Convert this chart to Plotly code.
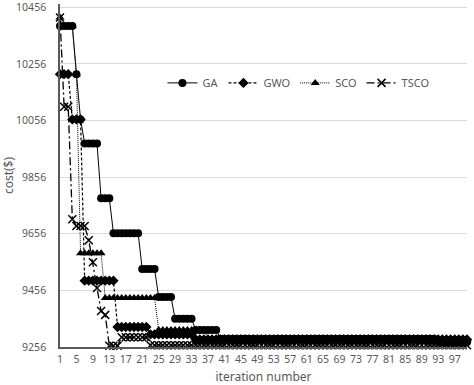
import plotly.graph_objects as go

iterations = list(range(1, 101))

ga = [10390, 10390, 10390, 10390, 10220, 10060, 9975, 9975, 9975, 9975,
      9781, 9781, 9781, 9658, 9658, 9658, 9658, 9658, 9658, 9658,
      9531, 9531, 9531, 9531, 9432, 9432, 9432, 9432, 9355, 9355,
      9355, 9355, 9355, 9316, 9316, 9316, 9316, 9316, 9316, 9285,
      9285, 9285, 9285, 9285, 9285, 9285, 9285, 9285, 9285, 9285,
      9285, 9285, 9285, 9285, 9285, 9285, 9285, 9285, 9285, 9285,
      9285, 9285, 9285, 9285, 9285, 9285, 9285, 9285, 9285, 9285,
      9285, 9285, 9285, 9285, 9285, 9285, 9285, 9285, 9285, 9285,
      9285, 9285, 9285, 9285, 9285, 9285, 9285, 9285, 9285, 9285,
      9285, 9285, 9272, 9272, 9272, 9272, 9272, 9272, 9272, 9272]

gwo = [10220, 10220, 10220, 10060, 10060, 10060, 9490, 9490, 9490, 9490,
       9490, 9490, 9490, 9490, 9326, 9326, 9326, 9326, 9326, 9326,
       9326, 9326, 9300, 9300, 9300, 9300, 9300, 9300, 9300, 9300,
       9300, 9300, 9300, 9282, 9282, 9282, 9282, 9282, 9282, 9282,
       9282, 9282, 9282, 9282, 9282, 9282, 9282, 9282, 9282, 9282,
       9282, 9282, 9282, 9282, 9282, 9282, 9282, 9282, 9282, 9282,
       9282, 9282, 9282, 9282, 9282, 9282, 9282, 9282, 9282, 9282,
       9282, 9282, 9282, 9282, 9282, 9282, 9282, 9282, 9282, 9282,
       9282, 9282, 9282, 9282, 9282, 9282, 9282, 9282, 9282, 9282,
       9282, 9282, 9282, 9282, 9282, 9282, 9282, 9282, 9282, 9282]

sco = [10420, 10390, 10390, 10390, 10220, 9587, 9587, 9587, 9587, 9587,
       9587, 9429, 9429, 9429, 9429, 9429, 9429, 9429, 9429, 9429,
       9429, 9429, 9429, 9429, 9316, 9316, 9316, 9316, 9316, 9316,
       9316, 9316, 9316, 9316, 9316, 9316, 9285, 9285, 9285, 9285,
       9285, 9285, 9285, 9285, 9285, 9285, 9285, 9285, 9285, 9285,
       9285, 9285, 9285, 9285, 9285, 9285, 9285, 9285, 9285, 9285,
       9285, 9285, 9285, 9285, 9285, 9285, 9285, 9285, 9285, 9285,
       9285, 9285, 9285, 9285, 9285, 9285, 9285, 9285, 9285, 9285,
       9285, 9285, 9285, 9285, 9285, 9285, 9285, 9285, 9285, 9285,
       9285, 9285, 9285, 9285, 9285, 9285, 9285, 9285, 9285, 9285]

tsco = [10420, 10105, 10105, 9707, 9683, 9683, 9683, 9633, 9555, 9464,
        9383, 9369, 9260, 9260, 9260, 9290, 9290, 9290, 9290, 9290,
        9290, 9290, 9262, 9262, 9262, 9262, 9262, 9262, 9262, 9262,
        9262, 9262, 9262, 9262, 9262, 9262, 9262, 9262, 9262, 9262,
        9262, 9262, 9262, 9262, 9262, 9262, 9262, 9262, 9262, 9262,
        9262, 9262, 9262, 9262, 9262, 9262, 9262, 9262, 9262, 9262,
        9262, 9262, 9262, 9262, 9262, 9262, 9262, 9262, 9262, 9262,
        9262, 9262, 9262, 9262, 9262, 9262, 9262, 9262, 9262, 9262,
        9262, 9262, 9262, 9262, 9262, 9262, 9262, 9262, 9262, 9262,
        9262, 9262, 9262, 9262, 9262, 9262, 9262, 9262, 9262, 9262]

x_ticks = list(range(1, 101, 4))
y_ticks = [9256, 9456, 9656, 9856, 10056, 10256, 10456]

FONT = "Noto Sans"
GREY = "#595959"

fig = go.Figure()
fig.add_trace(go.Scatter(x=iterations, y=ga, name="GA", mode="lines+markers",
                         line=dict(color="black", width=1, dash="solid"),
                         marker=dict(symbol="circle", size=8, color="black"),
                         cliponaxis=False))
fig.add_trace(go.Scatter(x=iterations, y=gwo, name="GWO", mode="lines+markers",
                         line=dict(color="black", width=1.2, dash="3px,2px"),
                         marker=dict(symbol="diamond", size=8, color="black"),
                         cliponaxis=False))
fig.add_trace(go.Scatter(x=iterations, y=sco, name="SCO", mode="lines+markers",
                         line=dict(color="black", width=1, dash="1px,1px"),
                         marker=dict(symbol="triangle-up", size=8, color="black"),
                         cliponaxis=False))
fig.add_trace(go.Scatter(x=iterations, y=tsco, name="TSCO", mode="lines+markers",
                         line=dict(color="black", width=1.3, dash="8px,3px,2px,3px"),
                         marker=dict(symbol="x-thin", size=8, color="black",
                                     line=dict(color="black", width=1.5)),
                         cliponaxis=False))

fig.update_layout(
    width=474, height=385,
    margin=dict(l=60, r=7, t=4, b=38),
    paper_bgcolor="white", plot_bgcolor="white",
    font=dict(family=FONT, size=11, color=GREY),
    showlegend=True,
    legend=dict(orientation="h", x=0.92, y=0.77, xanchor="right", yanchor="middle",
                font=dict(family=FONT, size=11, color=GREY),
                bgcolor="rgba(0,0,0,0)", itemwidth=30, tracegroupgap=0),
    xaxis=dict(range=[1, 100], tickvals=x_ticks, ticktext=[str(v) for v in x_ticks],
               automargin=False,
               showgrid=False, zeroline=False, showline=True, linecolor=GREY, linewidth=1.5,
               ticks="", ticklabelstandoff=2, ticklabeloverflow="allow",
               tickfont=dict(family=FONT, size=10.5, color=GREY),
               title=dict(text="iteration number", font=dict(family=FONT, size=12, color=GREY),
                          standoff=10)),
    yaxis=dict(range=[9255.5, 10468], tickvals=y_ticks, ticktext=[str(v) for v in y_ticks],
               automargin=False,
               showgrid=True, gridcolor="#d9d9d9", gridwidth=1, zeroline=False,
               showline=True, linecolor=GREY, linewidth=1.5, ticks="",
               ticklabelstandoff=10, ticklabeloverflow="allow",
               tickfont=dict(family=FONT, size=10.5, color=GREY),
               title=dict(text="cost($)", font=dict(family=FONT, size=12, color=GREY),
                          standoff=2)),
)

fig.write_html("out.html")
